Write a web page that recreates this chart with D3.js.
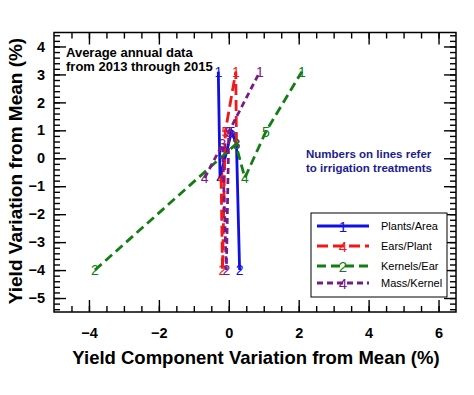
<!DOCTYPE html>
<html>
<head>
<meta charset="utf-8">
<script src="https://cdn.jsdelivr.net/npm/d3@7"></script>
<style>
  body { margin: 0; background: #fff; }
  svg { font-family: "Liberation Sans", Arial, Helvetica, sans-serif; }
</style>
</head>
<body>
<svg id="chart"></svg>
<script>
// irrigation treatments and the yield variation each one gave (%)
const treatments = [1, 2, 3, 4, 5];
const yieldVariation = [3.1, -4.0, 0.5, -0.7, 0.95];

// yield component variation from mean (%), one value per treatment
const plantsPerArea = [-0.3, 0.31, 0.22, -0.25, 0.08];
const earsPerPlant = [0.2, -0.18, 0.22, -0.22, -0.1];
const kernelsPerEar = [2.09, -3.83, 0.2, 0.46, 1.06];
const massPerKernel = [0.89, -0.07, -0.18, -0.69, 0.0];

const seriesNames = ['Plants/Area', 'Ears/Plant', 'Kernels/Ear', 'Mass/Kernel'];
const legendNumbers = ['1', '4', '2', '4'];

const xTicks = [-4, -2, 0, 2, 4, 6];
const yTicks = [-5, -4, -3, -2, -1, 0, 1, 2, 3, 4];

const width = 474, height = 395;
const margin = { top: 32.5, right: 18, bottom: 83, left: 54 };

const svg = d3.select('#chart')
    .attr('width', width)
    .attr('height', height);

const x = d3.scaleLinear().domain([-5, 6.5]).range([margin.left, width - margin.right]);
const y = d3.scaleLinear().domain([-5.5, 4.5]).range([height - margin.bottom, margin.top]);

const styles = [
    { color: '#1010e0', dash: null },
    { color: '#f01818', dash: '11,5' },
    { color: '#137d13', dash: '9,5' },
    { color: '#7a1a8a', dash: '6,4' }
];
const seriesValues = [plantsPerArea, earsPerPlant, kernelsPerEar, massPerKernel];

const series = seriesNames.map((name, i) => ({
    name,
    style: styles[i],
    legendNumber: legendNumbers[i],
    points: treatments.map((t, j) => ({ t, x: seriesValues[i][j], y: yieldVariation[j] }))
}));

// --- axes (ticks point inward on all four sides) ---
const gAxes = svg.append('g').attr('class', 'axes');
const xMinor = d3.range(-4.5, 6.5, 0.5);
const yMinor = d3.range(-5.4, 4.5, 0.2).map(v => Math.round(v * 10) / 10);

function axisGroup(axis, tx, ty) {
    const g = gAxes.append('g')
        .attr('transform', `translate(${tx},${ty})`)
        .call(axis);
    g.select('.domain').remove();
    g.selectAll('line').attr('stroke', '#000').attr('stroke-width', 1.4);
    return g;
}

const bottomY = y.range()[0], topY = y.range()[1];
const leftX = x.range()[0], rightX = x.range()[1];

axisGroup(d3.axisBottom(x).tickValues(xMinor).tickSize(-6).tickFormat(''), 0, bottomY);
axisGroup(d3.axisTop(x).tickValues(xMinor).tickSize(-6).tickFormat(''), 0, topY);
axisGroup(d3.axisTop(x).tickValues(xTicks).tickSize(-12).tickFormat(''), 0, topY);
const xAxis = axisGroup(d3.axisBottom(x).tickValues(xTicks).tickSize(-12).tickPadding(16).tickFormat(d3.format('d')), 0, bottomY);
xAxis.selectAll('text')
    .attr('font-size', 14.5).attr('font-weight', 'bold').attr('fill', '#000')
    .attr('font-family', '"Liberation Sans", Arial, sans-serif');

axisGroup(d3.axisLeft(y).tickValues(yMinor).tickSize(-6).tickFormat(''), leftX, 0);
axisGroup(d3.axisRight(y).tickValues(yMinor).tickSize(-6).tickFormat(''), rightX, 0);
axisGroup(d3.axisRight(y).tickValues(yTicks).tickSize(-12).tickFormat(''), rightX, 0);
const yAxis = axisGroup(d3.axisLeft(y).tickValues(yTicks).tickSize(-12).tickPadding(9).tickFormat(d3.format('d')), leftX, 0);
yAxis.selectAll('text')
    .attr('font-size', 14.5).attr('font-weight', 'bold').attr('fill', '#000')
    .attr('font-family', '"Liberation Sans", Arial, sans-serif');

gAxes.append('rect')
    .attr('x', leftX).attr('y', topY)
    .attr('width', rightX - leftX).attr('height', bottomY - topY)
    .attr('fill', 'none').attr('stroke', '#000').attr('stroke-width', 1.5);

// --- axis titles ---
svg.append('text')
    .attr('x', (leftX + rightX) / 2 + 1).attr('y', 364)
    .attr('text-anchor', 'middle')
    .attr('font-size', 18.5).attr('font-weight', 'bold')
    .text('Yield Component Variation from Mean (%)');

svg.append('text')
    .attr('transform', 'translate(22,171) rotate(-90)')
    .attr('text-anchor', 'middle')
    .attr('font-size', 19).attr('font-weight', 'bold')
    .text('Yield Variation from Mean (%)');

// --- series: points joined in order of x, each point labelled with its treatment ---
const line = d3.line().x(d => x(d.x)).y(d => y(d.y));
const gSeries = svg.append('g').attr('class', 'series');

series.forEach(s => {
    const g = gSeries.append('g');
    const sorted = s.points.slice().sort((a, b) => a.x - b.x);
    g.append('path')
        .attr('d', line(sorted))
        .attr('fill', 'none')
        .attr('stroke', s.style.color)
        .attr('stroke-width', 2.8)
        .attr('stroke-dasharray', s.style.dash);
    g.selectAll('text')
        .data(s.points)
        .enter().append('text')
        .attr('x', d => x(d.x))
        .attr('y', d => y(d.y) + 5)
        .attr('text-anchor', 'middle')
        .attr('font-size', 14)
        .attr('fill', s.style.color)
        .text(d => d.t);
});

// --- annotations ---
const note = svg.append('text')
    .attr('font-size', 13).attr('font-weight', 'bold').attr('fill', '#000');
note.append('tspan').attr('x', 66).attr('y', 57).text('Average annual data');
note.append('tspan').attr('x', 66).attr('y', 71).text('from 2013 through 2015');

const note2 = svg.append('text')
    .attr('font-size', 11.5).attr('font-weight', 'bold').attr('fill', '#1c1c8c');
note2.append('tspan').attr('x', 306).attr('y', 158).text('Numbers on lines refer');
note2.append('tspan').attr('x', 306).attr('y', 172).text('to irrigation treatments');

// --- legend ---
const legend = svg.append('g').attr('transform', 'translate(311,213)');
legend.append('rect')
    .attr('width', 136).attr('height', 84)
    .attr('fill', '#fff').attr('stroke', '#000').attr('stroke-width', 1);

const rows = legend.selectAll('.row')
    .data(series)
    .enter().append('g')
    .attr('class', 'row')
    .attr('transform', (d, i) => `translate(0,${[13, 33, 53, 70][i]})`);

rows.append('line')
    .attr('x1', 6).attr('x2', 58)
    .attr('stroke', d => d.style.color)
    .attr('stroke-width', 2.8)
    .attr('stroke-dasharray', d => d.style.dash);
rows.append('text')
    .attr('x', 32).attr('y', 5.5)
    .attr('text-anchor', 'middle')
    .attr('font-size', 15)
    .attr('fill', d => d.style.color)
    .text(d => d.legendNumber);
rows.append('text')
    .attr('x', 70).attr('y', 4)
    .attr('font-size', 11)
    .attr('fill', '#000')
    .text(d => d.name);
</script>
</body>
</html>
